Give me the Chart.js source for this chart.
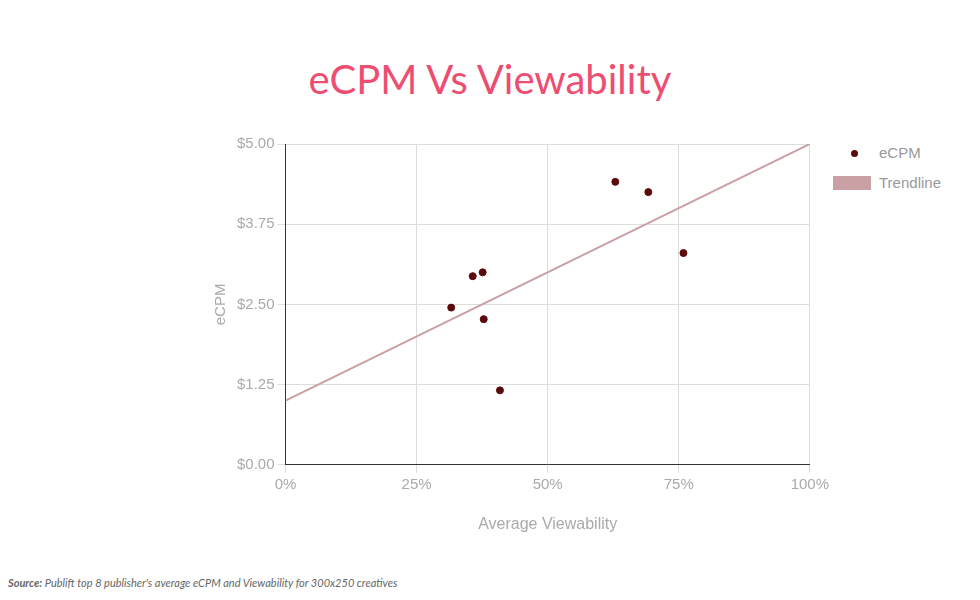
<!DOCTYPE html>
<html><head><meta charset="utf-8">
<script src="https://cdn.jsdelivr.net/npm/chart.js@4/dist/chart.umd.min.js"></script>
<style>
body{margin:0;background:#fff;width:980px;height:600px;overflow:hidden;font-family:Lato,"Open Sans",sans-serif}
#t{position:absolute;left:0;width:980px;top:55px;text-align:center;font-size:40px;color:#ee4d72;font-family:Lato,sans-serif}
#wrap{position:absolute;left:208px;top:132px;width:624px;height:406px}
#src{position:absolute;left:8px;top:576px;font-size:11px;font-style:italic;color:#666}
.lg{position:absolute;left:833px;font-family:Arial,sans-serif;font-size:15px;color:#999}
.dot{position:absolute;left:851px;top:150px;width:7px;height:7px;border-radius:50%;background:#5a0a0a}
.rc{position:absolute;left:833px;top:176px;width:38px;height:14px;background:#c9a0a3}
</style></head><body>
<div id="t">eCPM Vs Viewability</div>
<div id="wrap"><canvas id="c"></canvas></div>
<div class="dot"></div><div class="lg" style="left:879px;top:144px">eCPM</div>
<div class="rc"></div><div class="lg" style="left:879px;top:174px">Trendline</div>
<div id="src"><b>Source:</b> Publift top 8 publisher's average eCPM and Viewability for 300x250 creatives</div>
<script>
const viewability=[35.7,37.6,31.6,37.8,40.9,62.9,69.2,75.9];
const ecpm=[2.94,3.0,2.45,2.27,1.16,4.41,4.25,3.30];
const trendX=[0,100];
const trendY=[1.0,5.0];
const yTicks=[0,1.25,2.5,3.75,5];
new Chart(document.getElementById('c'),{
type:'scatter',
data:{datasets:[
{label:'eCPM',data:viewability.map((x,i)=>({x:x,y:ecpm[i]})),backgroundColor:'#5a0a0a',borderColor:'#5a0a0a',pointRadius:3.5,order:1},
{label:'Trendline',type:'line',data:trendX.map((x,i)=>({x:x,y:trendY[i]})),borderColor:'#c9a0a3',backgroundColor:'#c9a0a3',borderWidth:2,pointRadius:0,order:2}
]},
options:{responsive:true,maintainAspectRatio:false,animation:false,
layout:{padding:{top:12,right:20}},
plugins:{legend:{display:false},tooltip:{enabled:false}},
scales:{
x:{min:0,max:100,ticks:{stepSize:25,color:'#aaa',font:{size:15,family:'Arial'},callback:v=>v+'%'},grid:{color:'#ddd'},border:{color:'#333'},
title:{display:true,text:'Average Viewability',color:'#aaa',font:{size:16,family:'Arial'},padding:{top:18}}},
y:{min:0,max:5,afterBuildTicks:a=>{a.ticks=yTicks.map(v=>({value:v}));},ticks:{color:'#aaa',font:{size:15,family:'Arial'},callback:v=>'$'+v.toFixed(2)},grid:{color:'#ddd'},border:{color:'#333'},
title:{display:true,text:'eCPM',color:'#aaa',font:{size:15,family:'Arial'}}}
}}});
</script>
</body></html>
